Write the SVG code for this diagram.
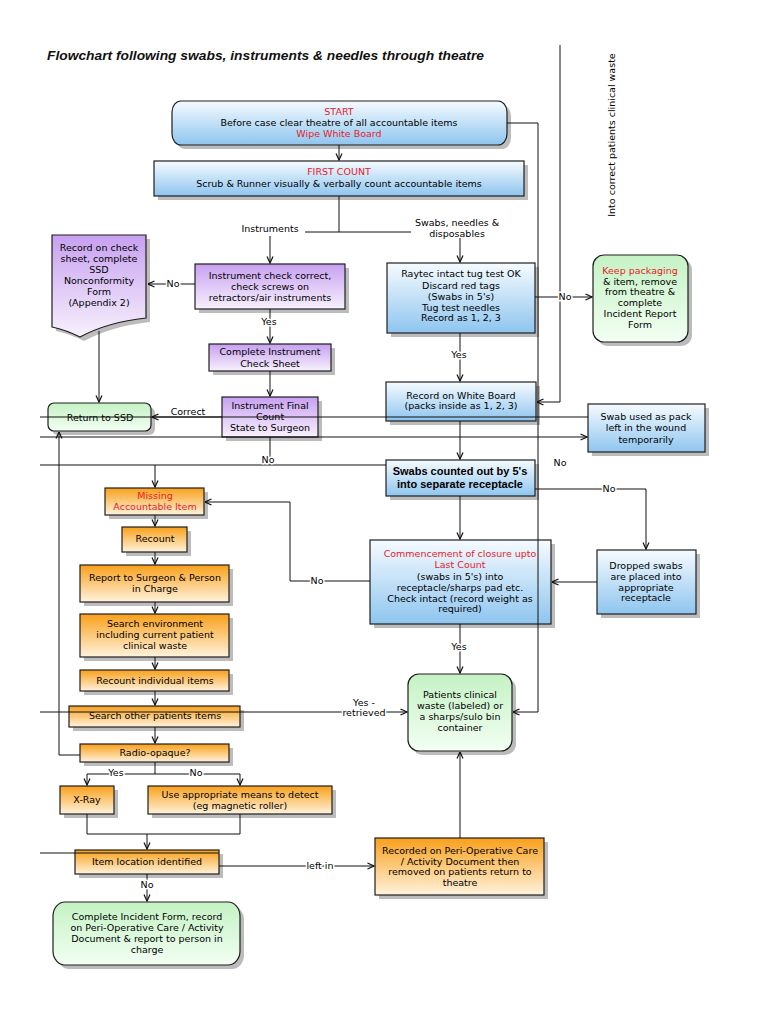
<svg xmlns="http://www.w3.org/2000/svg" width="768" height="1024" viewBox="0 0 768 1024">
<defs>
<linearGradient id="gBlue" x1="0" y1="0" x2="0" y2="1"><stop offset="0" stop-color="#f6fbff"/><stop offset="1" stop-color="#8ec5ef"/></linearGradient>
<linearGradient id="gPurple" x1="0" y1="0" x2="0" y2="1"><stop offset="0" stop-color="#c7a0f0"/><stop offset="1" stop-color="#f7f1fd"/></linearGradient>
<linearGradient id="gOrange" x1="0" y1="0" x2="0" y2="1"><stop offset="0" stop-color="#f9a01a"/><stop offset="1" stop-color="#fff3de"/></linearGradient>
<linearGradient id="gGreen" x1="0" y1="0" x2="0" y2="1"><stop offset="0" stop-color="#c4f2c4"/><stop offset="1" stop-color="#f3fff3"/></linearGradient>
<marker id="arr" viewBox="0 0 8 8" refX="7.5" refY="4" markerWidth="8" markerHeight="8" markerUnits="userSpaceOnUse" orient="auto">
<path d="M1,1 L7.5,4 L1,7" fill="none" stroke="#111" stroke-width="1.2"/>
</marker>
</defs>
<style>
.t{font-family:"DejaVu Sans","Verdana",sans-serif;font-size:9.5px;text-anchor:middle;fill:#000}
.r{fill:#e8202a}
.b{font-family:"Liberation Sans",Arial,sans-serif;font-weight:bold;font-size:11px}
.sh{fill:#bcbcbc}
.box{stroke:#1e1e1e;stroke-width:1.2}
.blue{fill:url(#gBlue)}
.purple{fill:url(#gPurple)}
.orange{fill:url(#gOrange)}
.green{fill:url(#gGreen)}
.c{fill:none;stroke:#111;stroke-width:1}
.a{marker-end:url(#arr)}
.lbl{font-family:"DejaVu Sans","Verdana",sans-serif;font-size:9.5px;text-anchor:middle;fill:#000;stroke:#fff;stroke-width:3;paint-order:stroke;stroke-linejoin:round}
</style>
<rect width="768" height="1024" fill="#fff"/>
<text x="47" y="60" font-family="Liberation Sans,Arial,sans-serif" font-size="12.5" font-weight="bold" font-style="italic" fill="#111" textLength="437" lengthAdjust="spacingAndGlyphs">Flowchart following swabs, instruments &amp; needles through theatre</text>
<text class="t" transform="translate(615,135) rotate(-90)" font-size="8.8">Into correct patients clinical waste</text>

<g id="start"><rect class="sh" x="176" y="105" width="335" height="44" rx="9" ry="11"/><rect class="box blue" x="172" y="101" width="335" height="44" rx="9" ry="11"/>
<text class="t r" x="339" y="115">START</text><text class="t" x="339" y="126">Before case clear theatre of all accountable items</text><text class="t r" x="339" y="137">Wipe White Board</text></g>

<g id="first-count"><rect class="sh" x="158" y="165" width="370" height="35"/><rect class="box blue" x="154" y="161" width="370" height="35"/>
<text class="t r" x="339" y="175">FIRST COUNT</text><text class="t" x="339" y="187">Scrub &amp; Runner visually &amp; verbally count accountable items</text></g>

<g id="record-check-sheet"><path class="sh" d="M56,239 H150 V322 Q112,326 84,341 Q70,334 56,331 Z"/><path class="box purple" d="M52,235 H146 V318 Q108,322 80,337 Q66,330 52,327 Z"/>
<text class="t" x="99" y="251">Record on check</text><text class="t" x="99" y="262">sheet, complete</text><text class="t" x="99" y="273">SSD</text><text class="t" x="99" y="284">Nonconformity</text><text class="t" x="99" y="295">Form</text><text class="t" x="99" y="306">(Appendix 2)</text></g>

<g id="instrument-check"><rect class="sh" x="199" y="268" width="150" height="45"/><rect class="box purple" x="195" y="264" width="150" height="45"/>
<text class="t" x="270" y="279">Instrument check correct,</text><text class="t" x="270" y="290">check screws on</text><text class="t" x="270" y="301">retractors/air instruments</text></g>

<g id="complete-check-sheet"><rect class="sh" x="213" y="348" width="122" height="27"/><rect class="box purple" x="209" y="344" width="122" height="27"/>
<text class="t" x="270" y="355">Complete Instrument</text><text class="t" x="270" y="367">Check Sheet</text></g>

<g id="final-count"><rect class="sh" x="226" y="401" width="96" height="40"/><rect class="box purple" x="222" y="397" width="96" height="40"/>
<text class="t" x="270" y="409">Instrument Final</text><text class="t" x="270" y="420">Count</text><text class="t" x="270" y="431">State to Surgeon</text></g>

<g id="return-ssd"><rect class="sh" x="52" y="407" width="103" height="28" rx="6"/><rect class="box green" x="48" y="403" width="103" height="28" rx="6"/>
<text class="t" x="100" y="421">Return to SSD</text></g>

<g id="raytec"><rect class="sh" x="391" y="267" width="148" height="70"/><rect class="box blue" x="387" y="263" width="148" height="70"/>
<text class="t" x="461" y="277">Raytec intact tug test OK</text><text class="t" x="461" y="289">Discard red tags</text><text class="t" x="461" y="300">(Swabs in 5's)</text><text class="t" x="461" y="311">Tug test needles</text><text class="t" x="461" y="321">Record as 1, 2, 3</text></g>

<g id="keep-packaging"><rect class="sh" x="597" y="259" width="95" height="87" rx="11"/><rect class="box green" x="593" y="255" width="95" height="87" rx="11"/>
<text class="t r" x="640" y="274">Keep packaging</text><text class="t" x="640" y="285">&amp; item, remove</text><text class="t" x="640" y="295">from theatre &amp;</text><text class="t" x="640" y="306">complete</text><text class="t" x="640" y="317">Incident Report</text><text class="t" x="640" y="328">Form</text></g>

<g id="white-board"><rect class="sh" x="390" y="386" width="150" height="39"/><rect class="box blue" x="386" y="382" width="150" height="39"/>
<text class="t" x="461" y="399">Record on White Board</text><text class="t" x="461" y="409">(packs inside as 1, 2, 3)</text></g>

<g id="swab-pack"><rect class="sh" x="592" y="408" width="117" height="48"/><rect class="box blue" x="588" y="404" width="117" height="48"/>
<text class="t" x="646" y="420">Swab used as pack</text><text class="t" x="646" y="431">left in the wound</text><text class="t" x="646" y="443">temporarily</text></g>

<g id="swabs-counted"><rect class="sh" x="390" y="464" width="149" height="36"/><rect class="box blue" x="386" y="460" width="149" height="36"/>
<text class="t b" x="460" y="475">Swabs counted out by 5's</text><text class="t b" x="460" y="488">into separate receptacle</text></g>

<g id="commencement"><rect class="sh" x="374" y="544" width="181" height="84"/><rect class="box blue" x="370" y="540" width="181" height="84"/>
<text class="t r" x="460" y="557">Commencement of closure upto</text><text class="t r" x="460" y="568">Last Count</text><text class="t" x="460" y="580">(swabs in 5's) into</text><text class="t" x="460" y="591">receptacle/sharps pad etc.</text><text class="t" x="460" y="602">Check intact (record weight as</text><text class="t" x="460" y="612">required)</text></g>

<g id="dropped-swabs"><rect class="sh" x="601" y="554" width="99" height="64"/><rect class="box blue" x="597" y="550" width="99" height="64"/>
<text class="t" x="646" y="569">Dropped swabs</text><text class="t" x="646" y="580">are placed into</text><text class="t" x="646" y="591">appropriate</text><text class="t" x="646" y="601">receptacle</text></g>

<g id="clinical-waste"><rect class="sh" x="412" y="678" width="104" height="77" rx="11"/><rect class="box green" x="408" y="674" width="104" height="77" rx="11"/>
<text class="t" x="460" y="698">Patients clinical</text><text class="t" x="460" y="709">waste (labeled) or</text><text class="t" x="460" y="720">a sharps/sulo bin</text><text class="t" x="460" y="731">container</text></g>

<g id="missing"><rect class="sh" x="109" y="492" width="99" height="27"/><rect class="box orange" x="105" y="488" width="99" height="27"/>
<text class="t r" x="155" y="499">Missing</text><text class="t r" x="155" y="510">Accountable Item</text></g>

<g id="recount"><rect class="sh" x="126" y="531" width="65" height="25"/><rect class="box orange" x="122" y="527" width="65" height="25"/>
<text class="t" x="155" y="542">Recount</text></g>

<g id="report-surgeon"><rect class="sh" x="84" y="569" width="149" height="37"/><rect class="box orange" x="80" y="565" width="149" height="37"/>
<text class="t" x="155" y="581">Report to Surgeon &amp; Person</text><text class="t" x="155" y="592">in Charge</text></g>

<g id="search-env"><rect class="sh" x="84" y="618" width="149" height="43"/><rect class="box orange" x="80" y="614" width="149" height="43"/>
<text class="t" x="155" y="627">Search environment</text><text class="t" x="155" y="638">including current patient</text><text class="t" x="155" y="649">clinical waste</text></g>

<g id="recount-individual"><rect class="sh" x="84" y="674" width="149" height="21"/><rect class="box orange" x="80" y="670" width="149" height="21"/>
<text class="t" x="155" y="684">Recount individual items</text></g>

<g id="search-other"><rect class="sh" x="73" y="710" width="171" height="21"/><rect class="box orange" x="69" y="706" width="171" height="21"/>
<text class="t" x="155" y="719">Search other patients items</text></g>

<g id="radio-opaque"><rect class="sh" x="84" y="748" width="149" height="18"/><rect class="box orange" x="80" y="744" width="149" height="18"/>
<text class="t" x="155" y="756">Radio-opaque?</text></g>

<g id="xray"><rect class="sh" x="64" y="790" width="54" height="28"/><rect class="box orange" x="60" y="786" width="54" height="28"/>
<text class="t" x="87" y="803">X-Ray</text></g>

<g id="appropriate-means"><rect class="sh" x="152" y="790" width="184" height="28"/><rect class="box orange" x="148" y="786" width="184" height="28"/>
<text class="t" x="240" y="798">Use appropriate means to detect</text><text class="t" x="240" y="809">(eg magnetic roller)</text></g>

<g id="item-location"><rect class="sh" x="79" y="854" width="144" height="24"/><rect class="box orange" x="75" y="850" width="144" height="24"/>
<text class="t" x="147" y="865">Item location identified</text></g>

<g id="recorded-peri"><rect class="sh" x="379" y="842" width="169" height="57"/><rect class="box orange" x="375" y="838" width="169" height="57"/>
<text class="t" x="460" y="854">Recorded on Peri-Operative Care</text><text class="t" x="460" y="865">/ Activity Document then</text><text class="t" x="460" y="875">removed on patients return to</text><text class="t" x="460" y="886">theatre</text></g>

<g id="incident-form"><rect class="sh" x="57" y="906" width="187" height="63" rx="12" ry="14"/><rect class="box green" x="53" y="902" width="187" height="63" rx="12" ry="14"/>
<text class="t" x="147" y="920">Complete Incident Form, record</text><text class="t" x="147" y="931">on Peri-Operative Care / Activity</text><text class="t" x="147" y="942">Document &amp; report to person in</text><text class="t" x="147" y="953">charge</text></g>

<g id="connectors">
<path class="c a" d="M339,145 V160"/>
<path class="c" d="M339,196 V232 M305,232 H411"/>
<path class="c a" d="M270,236 V263"/>
<path class="c a" d="M460,238 V262"/>
<path class="c a" d="M195,284 H148"/>
<path class="c a" d="M270,309 V343"/>
<path class="c a" d="M270,371 V396"/>
<path class="c a" d="M222,417 H152"/>
<path class="c a" d="M99,331 V402"/>
<path class="c" d="M270,437 V465"/>
<path class="c" d="M40,417 H588"/>
<path class="c a" d="M40,437 H587"/>
<path class="c" d="M40,465 H386"/>
<path class="c a" d="M155,465 V487"/>
<path class="c a" d="M155,515 V526"/>
<path class="c a" d="M155,552 V564"/>
<path class="c a" d="M155,602 V613"/>
<path class="c a" d="M155,657 V669"/>
<path class="c a" d="M155,691 V705"/>
<path class="c a" d="M155,727 V743"/>
<path class="c a" d="M370,581 H290 V502 H205"/>
<path class="c a" d="M80,755 H59 V432"/>
<path class="c a" d="M40,712 H407"/>
<path class="c" d="M155,762 V774 M87,774 H240"/>
<path class="c a" d="M87,774 V785"/>
<path class="c a" d="M240,774 V785"/>
<path class="c" d="M87,814 V834 H240 V814"/>
<path class="c a" d="M147,834 V849"/>
<path class="c" d="M40,853 H219"/>
<path class="c a" d="M219,866 H374"/>
<path class="c a" d="M147,874 V901"/>
<path class="c a" d="M460,838 V752"/>
<path class="c a" d="M460,333 V381"/>
<path class="c a" d="M460,421 V459"/>
<path class="c a" d="M535,297 H592"/>
<path class="c a" d="M560,45 V402 H537"/>
<path class="c a" d="M507,123 H538 V712 H513"/>
<path class="c a" d="M535,489 H646 V549"/>
<path class="c a" d="M597,582 H552"/>
<path class="c a" d="M460,496 V539"/>
<path class="c a" d="M460,624 V673"/>
<text class="t" x="270" y="232">Instruments</text>
<text class="t" x="457" y="226">Swabs, needles &amp;</text>
<text class="t" x="457" y="237">disposables</text>
<text class="lbl" x="173" y="287">No</text>
<text class="lbl" x="269" y="325">Yes</text>
<text class="t" x="188" y="415">Correct</text>
<text class="lbl" x="268" y="463">No</text>
<text class="lbl" x="317" y="584">No</text>
<text class="lbl" x="364" y="706">Yes -</text>
<text class="lbl" x="364" y="716">retrieved</text>
<text class="lbl" x="116" y="776">Yes</text>
<text class="lbl" x="196" y="776">No</text>
<text class="lbl" x="320" y="869">left in</text>
<text class="lbl" x="147" y="888">No</text>
<text class="lbl" x="459" y="358">Yes</text>
<text class="lbl" x="565" y="300">No</text>
<text class="t" x="560" y="466">No</text>
<text class="lbl" x="609" y="492">No</text>
<text class="lbl" x="459" y="650">Yes</text>
</g>
</svg>
